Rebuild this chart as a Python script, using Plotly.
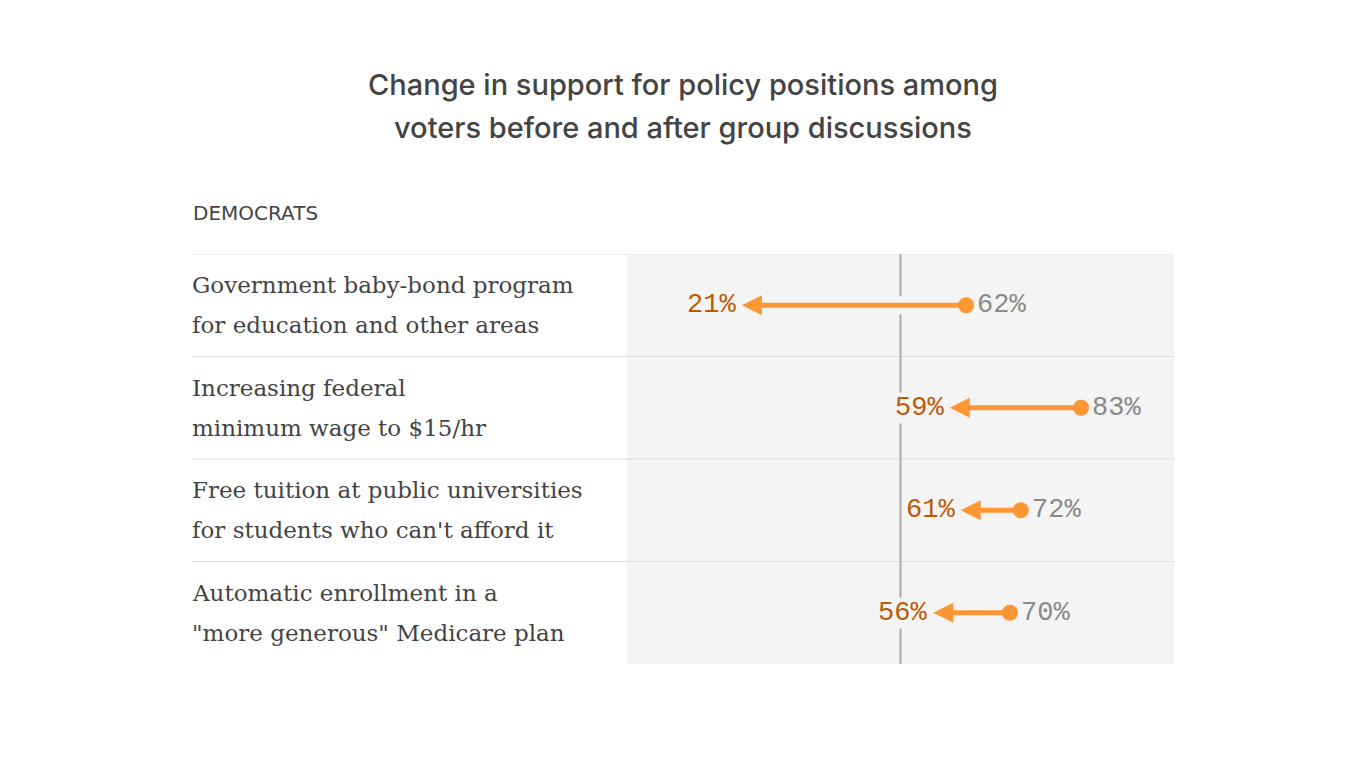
import plotly.graph_objects as go

W, H = 1366, 768

title_lines = ["Change in support for policy positions among",
               "voters before and after group discussions"]
section = "DEMOCRATS"
categories = [
    ["Government baby-bond program", "for education and other areas"],
    ["Increasing federal", "minimum wage to $15/hr"],
    ["Free tuition at public universities", "for students who can't afford it"],
    ["Automatic enrollment in a", "\"more generous\" Medicare plan"],
]
before = [62, 83, 72, 70]
after = [21, 59, 61, 56]

ORANGE = "#fd9633"
DARK_ORANGE = "#bd5a06"
GRAY_TXT = "#8a8a8a"
BG = "#f4f4f4"
TXT = "#444444"
MONO = "Liberation Mono"

rows = list(range(len(categories)))

fig = go.Figure()

# halo behind arrow lines (background colour)
for i in rows:
    fig.add_trace(go.Scatter(x=[before[i], after[i]], y=[i, i], mode="lines",
                             line=dict(color=BG, width=18), hoverinfo="skip",
                             showlegend=False))
# dots for 'before'
fig.add_trace(go.Scatter(x=before, y=rows, mode="markers",
                         marker=dict(color=ORANGE, size=16, line=dict(width=0)),
                         hoverinfo="skip", showlegend=False))

annotations = []
shapes = []

for i in rows:
    annotations.append(dict(x=after[i], y=i, ax=before[i], ay=i, xref="x", yref="y",
                            axref="x", ayref="y", text="", showarrow=True,
                            arrowhead=2, arrowwidth=5, arrowsize=0.8,
                            arrowcolor=ORANGE, standoff=0, startstandoff=0))
    annotations.append(dict(x=after[i], y=i, xref="x", yref="y", text=f"{after[i]}%",
                            showarrow=False, xanchor="right", xshift=-5,
                            font=dict(family=MONO, size=27, color=DARK_ORANGE),
                            bgcolor=BG, borderpad=0))
    annotations.append(dict(x=before[i], y=i, xref="x", yref="y", text=f"{before[i]}%",
                            showarrow=False, xanchor="left", xshift=10,
                            font=dict(family=MONO, size=27, color=GRAY_TXT),
                            bgcolor=BG, borderpad=0))
    for k, line in enumerate(categories[i]):
        annotations.append(dict(x=192 / W, y=i, xref="paper", yref="y", text=line,
                                showarrow=False, xanchor="left", yanchor="middle",
                                xshift=-2, yshift=20 - 40 * k,
                                font=dict(family="DejaVu Serif", size=23, color=TXT)))

for k, line in enumerate(title_lines):
    annotations.append(dict(x=0.5, y=1 - (84 + 43 * k) / H, xref="paper", yref="paper",
                            text=line, showarrow=False, xanchor="center", yanchor="middle",
                            font=dict(family="Inter", size=29, color=TXT, weight=500)))
annotations.append(dict(x=192 / W, y=1 - 213 / H, xref="paper", yref="paper",
                        text=section, showarrow=False, xanchor="left", yanchor="middle",
                        xshift=-1,
                        font=dict(family="DejaVu Sans", size=20, color=TXT)))

for b in [r - 0.5 for r in rows]:
    shapes.append(dict(type="line", xref="paper", yref="y", x0=192 / W, x1=1174 / W,
                       y0=b, y1=b, line=dict(color="#dddddd", width=1), layer="below"))
shapes.append(dict(type="line", xref="x", yref="y", x0=50, x1=50, y0=-0.5,
                   y1=len(rows) - 0.5, line=dict(color="#aaaaaa", width=2), layer="below"))

fig.update_layout(
    width=W, height=H,
    margin=dict(l=0, r=0, t=0, b=0),
    paper_bgcolor="white", plot_bgcolor=BG,
    xaxis=dict(domain=[627 / W, 1174 / W], range=[0, 100], visible=False, fixedrange=True),
    yaxis=dict(domain=[1 - 664 / H, 1 - 254 / H], range=[len(rows) - 0.5, -0.5],
               visible=False, fixedrange=True),
    annotations=annotations, shapes=shapes,
)

fig.write_html("out.html")
